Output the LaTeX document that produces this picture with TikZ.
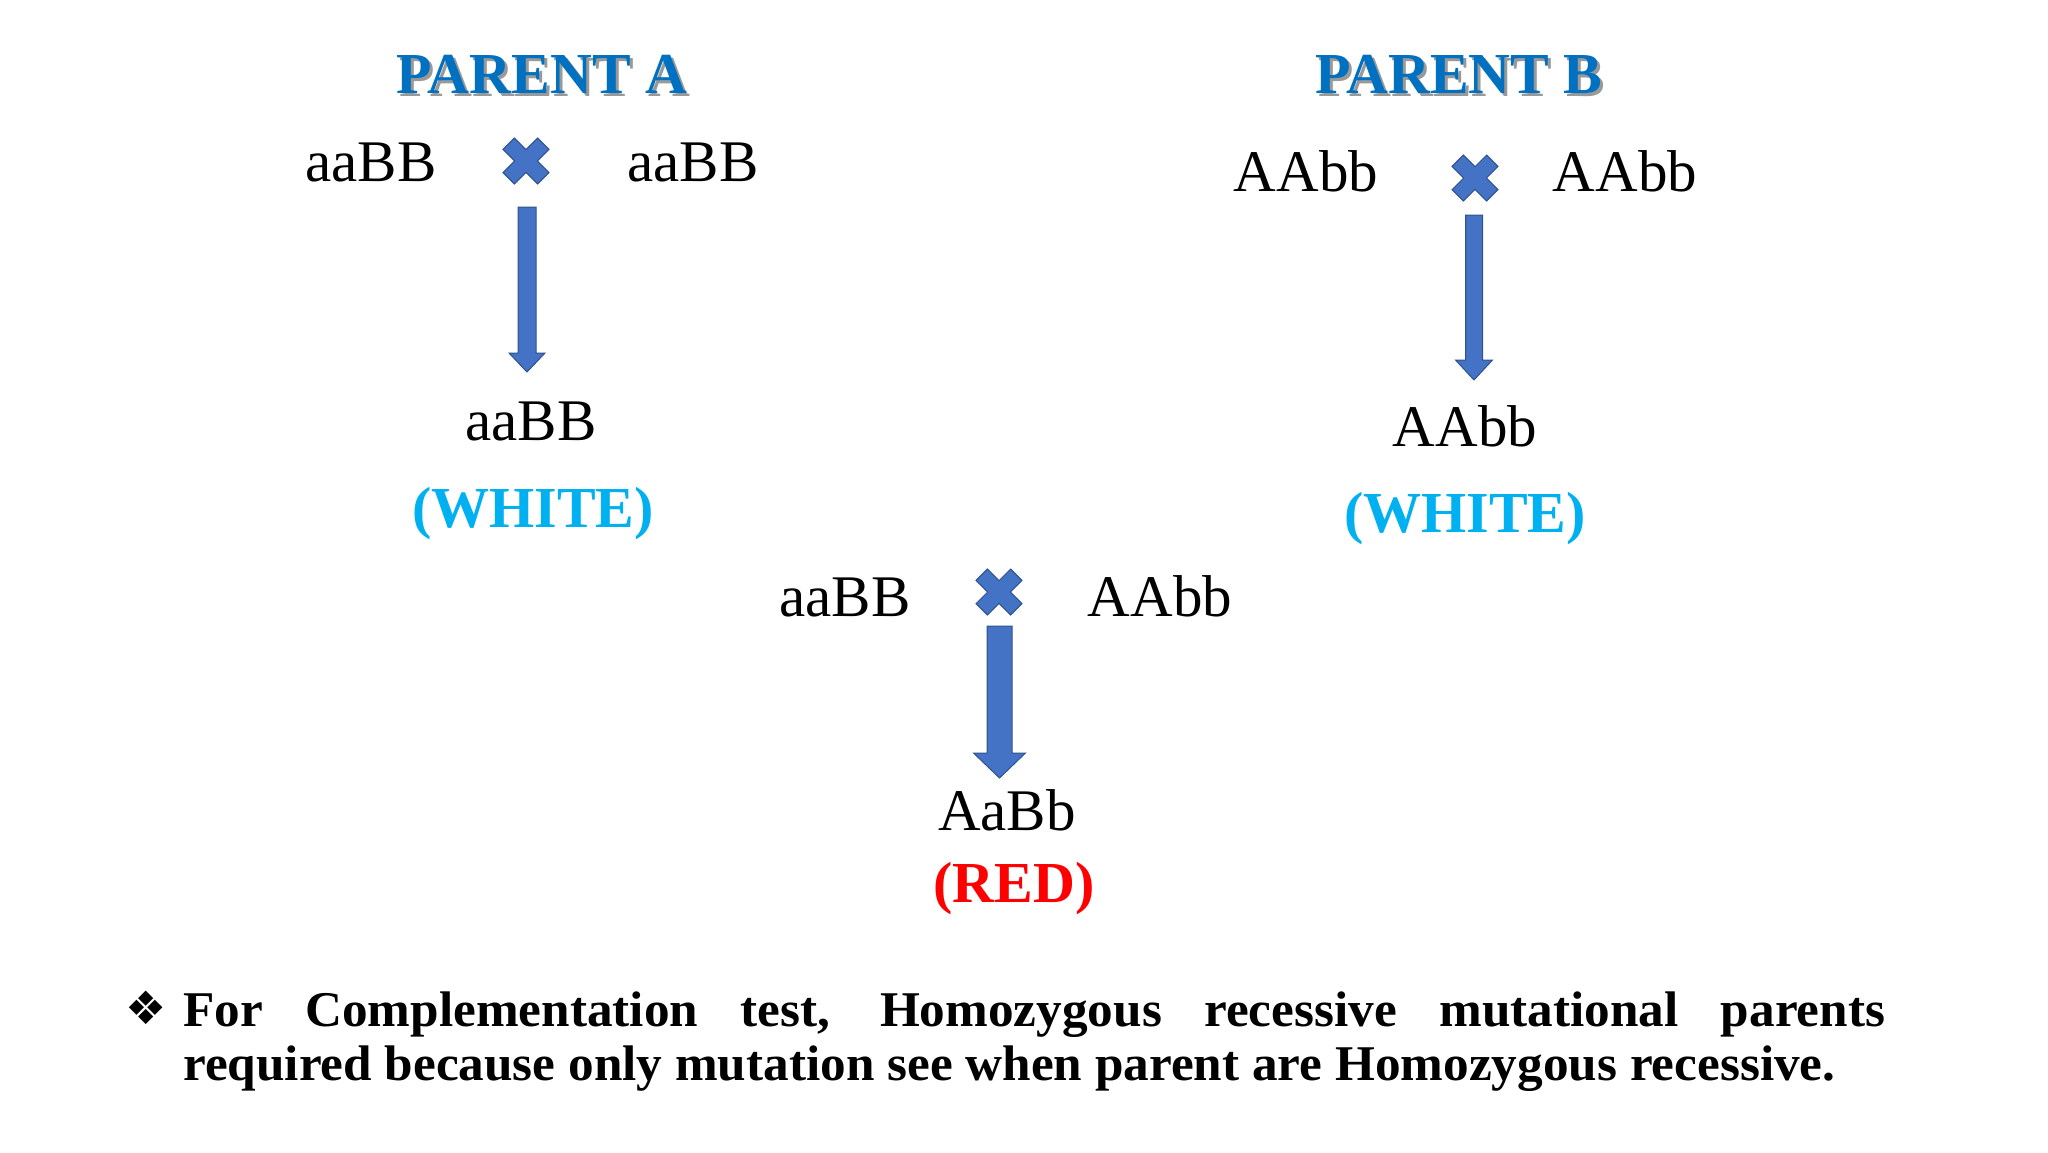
\documentclass[tikz,border=0pt]{standalone}
\usepackage{fontspec}
\setmainfont{Liberation Serif}
\newfontfamily\symfont{DejaVu Sans}
\newfontfamily\condfont[FakeStretch=1.025]{Liberation Serif}
\definecolor{titleblue}{HTML}{0070C0}
\definecolor{whitecyan}{HTML}{00B0F0}
\definecolor{redtxt}{HTML}{FF0000}
\definecolor{shapefill}{HTML}{4472C4}
\definecolor{shapeline}{HTML}{2F528F}
\tikzset{
  geno/.style={inner sep=0pt, anchor=base, text=black, font=\fontsize{59}{60}\selectfont},
  boldlbl/.style={inner sep=0pt, anchor=base, font=\fontsize{58}{60}\selectfont\bfseries},
  titlelbl/.style={boldlbl, text=titleblue},
  shadowlbl/.style={boldlbl, text=black!40},
  blockshape/.style={fill=shapefill, draw=shapeline, line width=1pt, line join=miter},
  xmark/.pic={
    \path[blockshape, rotate=45]
      (8,24.5) -- (8,8) -- (24.5,8) -- (24.5,-8) -- (8,-8) -- (8,-24.5) --
      (-8,-24.5) -- (-8,-8) -- (-24.5,-8) -- (-24.5,8) -- (-8,8) -- (-8,24.5) -- cycle;
  },
  bottomtxt/.style={inner sep=0pt, anchor=base west, font=\fontsize{50}{54}\selectfont\condfont\bfseries},
}
\newcommand{\blockarrow}[6]{% x, ytop, headtop, tip, shaft half width, head half width
  \path[blockshape] ({#1-#5},#2) -- ({#1+#5},#2) -- ({#1+#5},#3) -- ({#1+#6},#3) --
    (#1,#4) -- ({#1-#6},#3) -- ({#1-#5},#3) -- cycle;}
\begin{document}
\begin{tikzpicture}[x=1pt,y=-1pt]
\fill[white] (0,0) rectangle (2048,1152);
\useasboundingbox (0,0) rectangle (2048,1152);

% Titles
\node[shadowlbl] at (545,96) {PARENT A};
\node[titlelbl] (titleA) at (542,93) {PARENT A};
\node[shadowlbl] at (1462,96) {PARENT B};
\node[titlelbl] (titleB) at (1459,93) {PARENT B};

% Parent A cross
\node[geno] (a1) at (371,181) {aaBB};
\pic (xa) at (526,161) {xmark};
\node[geno] (a2) at (693,181) {aaBB};
\blockarrow{527}{207}{353}{372}{9}{18}
\node[geno] (ares) at (531,440) {aaBB};
\node[boldlbl, text=whitecyan] (awhite) at (533,527) {(WHITE)};

% Parent B cross
\node[geno] (b1) at (1306,191) {AAbb};
\pic (xb) at (1475,178) {xmark};
\node[geno] (b2) at (1625,191) {AAbb};
\blockarrow{1474}{215}{360}{380}{8.5}{18.5}
\node[geno] (bres) at (1465,446) {AAbb};
\node[boldlbl, text=whitecyan] (bwhite) at (1465,532) {(WHITE)};

% Complementation cross
\node[geno] (c1) at (845,616) {aaBB};
\pic (xc) at (999,592) {xmark};
\node[geno] (c2) at (1160,616) {AAbb};
\blockarrow{999.5}{626}{753}{778}{12.5}{26}
\node[geno] (cres) at (1007,830) {AaBb};
\node[boldlbl, text=redtxt] (cred) at (1014,902) {(RED)};

% Bottom note
\node[inner sep=0pt, font=\fontsize{46}{50}\selectfont\symfont] (bullet) at (146,1008) {❖};
\node[bottomtxt] (line1) at (183,1026) {\makebox[1702pt][s]{For Complementation test, Homozygous recessive mutational parents}};
\node[bottomtxt] (line2) at (183,1080) {required because only mutation see when parent are Homozygous recessive.};
\end{tikzpicture}
\end{document}
